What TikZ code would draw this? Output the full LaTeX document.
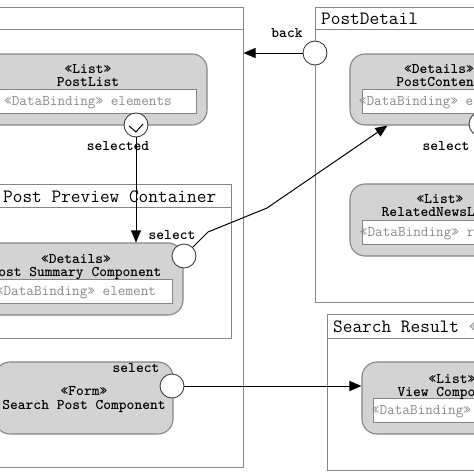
\documentclass[tikz,border=0pt]{standalone}
\usetikzlibrary{arrows.meta,calc}
\definecolor{nodefill}{HTML}{D3D3D3}
\definecolor{edgegray}{HTML}{858585}
\definecolor{txtgray}{HTML}{8A8A8A}
\tikzset{
  container/.style={draw=edgegray, line width=1pt, rectangle, inner sep=0pt},
  comp/.style={draw=edgegray, fill=nodefill, rectangle, rounded corners=15pt, line width=1.1pt, inner sep=0pt},
  ibox/.style={draw=edgegray, fill=white, rectangle, line width=1pt, inner sep=0pt},
  lbl/.style={font=\fontsize{14.8}{16}\selectfont\ttfamily\bfseries, inner sep=0pt, text depth=0pt},
  dbtxt/.style={font=\fontsize{14.8}{16}\selectfont\ttfamily, text=txtgray, inner sep=0pt, text depth=0pt},
  ttl/.style={font=\fontsize{18.8}{20}\selectfont\ttfamily, inner sep=0pt, anchor=west, text depth=0pt},
  port/.style={circle, draw=black!75, fill=white, minimum size=24pt, inner sep=0pt, line width=0.9pt},
  conn/.style={draw=black, line width=1pt},
  arr/.style={-{Triangle[length=12pt,width=10pt]}},
}
\begin{document}
\begin{tikzpicture}[x=1pt,y=-1pt]
\useasboundingbox (0,0) rectangle (474,474);
\clip (0,0) rectangle (474,474);

% containers
\node[container, minimum width=343pt, minimum height=460pt] (outer) at (71.5,237) {};
\draw[container] ($(outer.north west)+(0,23)$) -- ($(outer.north east)+(0,23)$);

\node[container, minimum width=236pt, minimum height=154pt] (ppc) at (113,261) {};
\draw[container] ($(ppc.north west)+(0,24)$) -- ($(ppc.north east)+(0,24)$);
\node[ttl] (ppct) at (3,196.5) {Post Preview Container};

\node[container, minimum width=285pt, minimum height=295pt] (pd) at (457.5,154.5) {};
\draw[container] ($(pd.north west)+(0,23)$) -- ($(pd.north east)+(0,23)$);
\node[ttl] (pdt) at (321,18.5) {PostDetail};

\node[container, minimum width=273pt, minimum height=156pt] (sr) at (463.5,392) {};
\draw[container] ($(sr.north west)+(0,25)$) -- ($(sr.north east)+(0,25)$);
\node[ttl] (srt) at (333,327) {Search Result \textcolor{txtgray}{«Page»}};

% PostList
\node[comp, minimum width=238pt, minimum height=71pt] (plist) at (88,89.5) {};
\node[ibox, minimum width=216pt, minimum height=24pt] (plbox) at (88,101) {};
\node[lbl] (plst) at (88,69) {«List»};
\node[lbl] (plname) at (88,82) {PostList};
\node[dbtxt] (pltxt) at (88,101) {«DataBinding» elements};

% Post Summary Component
\node[comp, minimum width=214pt, minimum height=72pt] (psum) at (76,279) {};
\node[ibox, minimum width=192pt, minimum height=24pt] (psbox) at (76,291) {};
\node[lbl] (psst) at (76,259) {«Details»};
\node[lbl] (psname) at (76,272) {Post Summary Component};
\node[dbtxt] (pstxt) at (76,291) {«DataBinding» element};

% Search Post Component
\node[comp, minimum width=178pt, minimum height=72pt] (spc) at (84,398) {};
\node[lbl] (spst) at (84,391) {«Form»};
\node[lbl] (spname) at (84,405) {Search Post Component};

% PostContent
\node[comp, minimum width=178pt, minimum height=71pt] (pc) at (439,89.5) {};
\node[ibox, minimum width=154pt, minimum height=24pt] (pcbox) at (439,101) {};
\node[lbl] (pcst) at (439,69) {«Details»};
\node[lbl] (pcname) at (439,82) {PostContent};
\node[dbtxt] (pctxt) at (439,101) {«DataBinding» element};

% RelatedNewsList
\node[comp, minimum width=180pt, minimum height=72pt] (rnl) at (440,220) {};
\node[ibox, minimum width=156pt, minimum height=24pt] (rnbox) at (440,232) {};
\node[lbl] (rnst) at (440,199) {«List»};
\node[lbl] (rnname) at (440,212) {RelatedNewsList};
\node[dbtxt] (rntxt) at (440,232) {«DataBinding» related};

% View Component
\node[comp, minimum width=180pt, minimum height=72pt] (vc) at (452,398) {};
\node[ibox, minimum width=158pt, minimum height=24pt] (vcbox) at (452,410) {};
\node[lbl] (vcst) at (452,379) {«List»};
\node[lbl] (vcname) at (452,392) {View Component};
\node[dbtxt] (vctxt) at (452,410) {«DataBinding» element};

% ports
\node[port] (check) at (136,125) {};
\draw[conn] ($(check)+(-7,1)$) -- ($(check)+(0,7)$) -- ($(check)+(7,-1)$);
\node[port] (psel) at (184,256) {};
\node[port] (ssel) at (172,386) {};
\node[port] (pcsel) at (481,124) {};
\node[port] (back) at (315,53) {};

% port labels
\node[lbl] (selectedl) at (118,146) {selected};
\node[lbl] (psell) at (172,235) {select};
\node[lbl] (ssell) at (136,368) {select};
\node[lbl] (pcsell) at (446,146) {select};
\node[lbl] (backl) at (287,33) {back};

% connectors
\coordinate (k1) at (208,232);
\coordinate (k2) at (267,208);
\coordinate (pct) at ($(pc.south west)+(38,0)$);
\draw[conn,arr] (check.south) -- (check.south |- psum.north);
\draw[conn,arr] (psel) -- (k1) -- (k2) -- (pct);
\draw[conn,arr] (back) -- (back -| outer.east);
\draw[conn,arr] (ssel) -- (ssel -| vc.west);
\end{tikzpicture}
\end{document}
